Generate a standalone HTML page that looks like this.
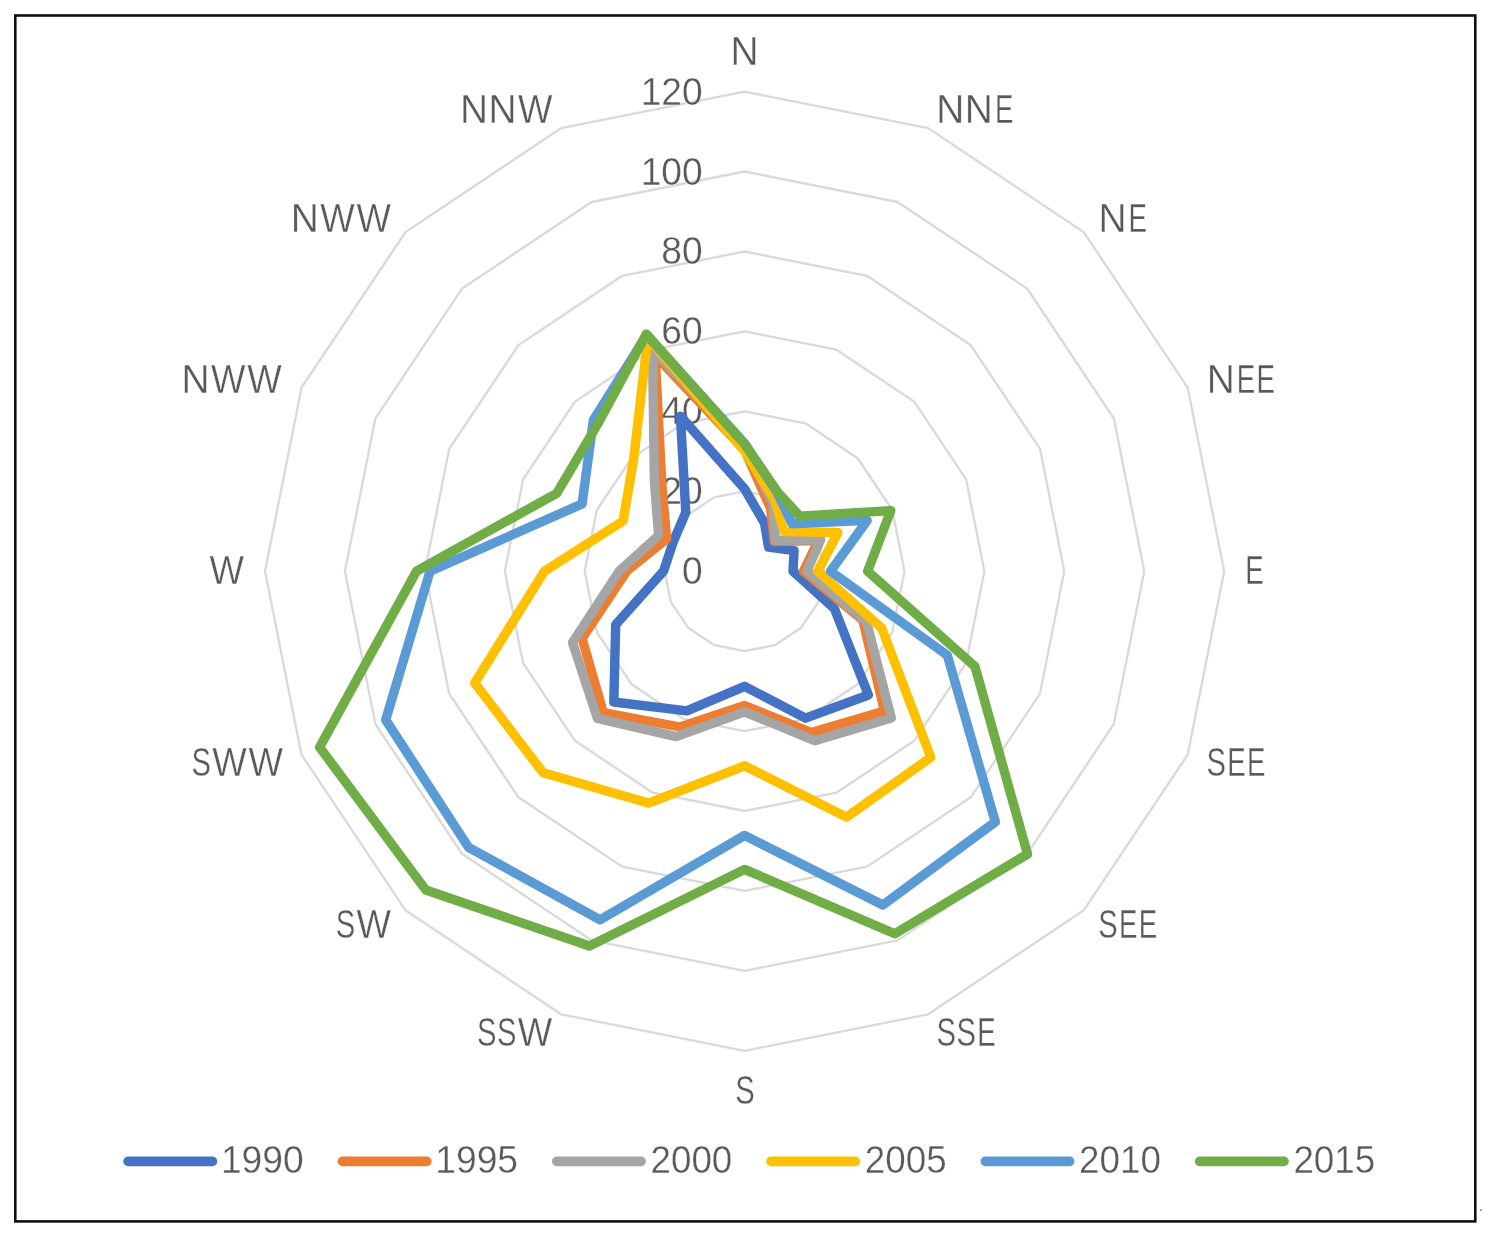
<!DOCTYPE html>
<html><head><meta charset="utf-8"><title>Radar chart</title>
<style>
html,body{margin:0;padding:0;background:#fff;}
body{width:1489px;height:1236px;overflow:hidden;position:relative;}
svg{position:absolute;left:0;top:0;display:block;}
text{font-family:"Liberation Sans",Arial,sans-serif;font-size:40.6px;fill:#595959;stroke:#fff;stroke-width:0.35px;}
</style></head><body>
<svg width="1489" height="1236" viewBox="0 0 1489 1236">
<rect x="15.3" y="15.5" width="1460.0" height="1205.9" fill="#fff" stroke="#111" stroke-width="2.6"/>
<circle cx="1480.8" cy="1210.2" r="1.1" fill="#9a9a9a"/>
<g fill="none" stroke="#D9D9D9" stroke-width="2.3" stroke-linejoin="round"><polygon points="744.6,491.3 775.2,497.4 801.1,514.7 818.4,540.6 824.5,571.2 818.4,601.8 801.1,627.7 775.2,645.0 744.6,651.1 714.0,645.0 688.1,627.7 670.8,601.8 664.7,571.2 670.8,540.6 688.1,514.7 714.0,497.4"/><polygon points="744.6,411.3 805.8,423.5 857.6,458.2 892.3,510.0 904.5,571.2 892.3,632.4 857.6,684.2 805.8,718.9 744.6,731.1 683.4,718.9 631.6,684.2 596.9,632.4 584.7,571.2 596.9,510.0 631.6,458.2 683.4,423.5"/><polygon points="744.6,331.4 836.4,349.7 914.2,401.6 966.1,479.4 984.4,571.2 966.1,663.0 914.2,740.8 836.4,792.7 744.6,811.0 652.8,792.7 575.0,740.8 523.1,663.0 504.8,571.2 523.1,479.4 575.0,401.6 652.8,349.7"/><polygon points="744.6,251.5 867.0,275.8 970.7,345.1 1040.0,448.8 1064.3,571.2 1040.0,693.6 970.7,797.3 867.0,866.6 744.6,890.9 622.2,866.6 518.5,797.3 449.2,693.6 424.9,571.2 449.2,448.8 518.5,345.1 622.2,275.8"/><polygon points="744.6,171.5 897.5,202.0 1027.2,288.6 1113.8,418.3 1144.3,571.2 1113.8,724.1 1027.2,853.8 897.5,940.4 744.6,970.9 591.7,940.4 462.0,853.8 375.4,724.1 344.9,571.2 375.4,418.3 462.0,288.6 591.7,202.0"/><polygon points="744.6,91.6 928.1,128.1 1083.7,232.1 1187.7,387.7 1224.2,571.2 1187.7,754.7 1083.7,910.3 928.1,1014.3 744.6,1050.8 561.1,1014.3 405.5,910.3 301.5,754.7 265.0,571.2 301.5,387.7 405.5,232.1 561.1,128.1"/></g>
<g><text y="64.70"><tspan x="730.56" textLength="28.05" lengthAdjust="spacingAndGlyphs">N</tspan></text><text y="123.10"><tspan x="936.36" textLength="28.05" lengthAdjust="spacingAndGlyphs">N</tspan><tspan x="964.86" textLength="28.05" lengthAdjust="spacingAndGlyphs">N</tspan><tspan x="994.88" textLength="18.46" lengthAdjust="spacingAndGlyphs">E</tspan></text><text y="232.00"><tspan x="1098.41" textLength="28.05" lengthAdjust="spacingAndGlyphs">N</tspan><tspan x="1128.43" textLength="18.46" lengthAdjust="spacingAndGlyphs">E</tspan></text><text y="393.20"><tspan x="1206.66" textLength="28.05" lengthAdjust="spacingAndGlyphs">N</tspan><tspan x="1236.68" textLength="18.46" lengthAdjust="spacingAndGlyphs">E</tspan><tspan x="1256.38" textLength="18.46" lengthAdjust="spacingAndGlyphs">E</tspan></text><text y="583.90"><tspan x="1245.28" textLength="18.46" lengthAdjust="spacingAndGlyphs">E</tspan></text><text y="775.90"><tspan x="1206.62" textLength="19.46" lengthAdjust="spacingAndGlyphs">S</tspan><tspan x="1227.28" textLength="18.46" lengthAdjust="spacingAndGlyphs">E</tspan><tspan x="1246.98" textLength="18.46" lengthAdjust="spacingAndGlyphs">E</tspan></text><text y="937.60"><tspan x="1098.32" textLength="19.46" lengthAdjust="spacingAndGlyphs">S</tspan><tspan x="1118.98" textLength="18.46" lengthAdjust="spacingAndGlyphs">E</tspan><tspan x="1138.68" textLength="18.46" lengthAdjust="spacingAndGlyphs">E</tspan></text><text y="1046.20"><tspan x="936.42" textLength="19.46" lengthAdjust="spacingAndGlyphs">S</tspan><tspan x="956.52" textLength="19.46" lengthAdjust="spacingAndGlyphs">S</tspan><tspan x="977.18" textLength="18.46" lengthAdjust="spacingAndGlyphs">E</tspan></text><text y="1104.40"><tspan x="735.37" textLength="19.46" lengthAdjust="spacingAndGlyphs">S</tspan></text><text y="1046.20"><tspan x="477.02" textLength="19.46" lengthAdjust="spacingAndGlyphs">S</tspan><tspan x="497.12" textLength="19.46" lengthAdjust="spacingAndGlyphs">S</tspan><tspan x="517.79" textLength="34.49" lengthAdjust="spacingAndGlyphs">W</tspan></text><text y="937.60"><tspan x="335.82" textLength="19.46" lengthAdjust="spacingAndGlyphs">S</tspan><tspan x="356.49" textLength="34.49" lengthAdjust="spacingAndGlyphs">W</tspan></text><text y="775.90"><tspan x="191.62" textLength="19.46" lengthAdjust="spacingAndGlyphs">S</tspan><tspan x="212.29" textLength="34.49" lengthAdjust="spacingAndGlyphs">W</tspan><tspan x="248.59" textLength="34.49" lengthAdjust="spacingAndGlyphs">W</tspan></text><text y="583.90"><tspan x="209.49" textLength="34.49" lengthAdjust="spacingAndGlyphs">W</tspan></text><text y="393.20"><tspan x="181.56" textLength="28.05" lengthAdjust="spacingAndGlyphs">N</tspan><tspan x="210.99" textLength="34.49" lengthAdjust="spacingAndGlyphs">W</tspan><tspan x="247.29" textLength="34.49" lengthAdjust="spacingAndGlyphs">W</tspan></text><text y="232.00"><tspan x="290.86" textLength="28.05" lengthAdjust="spacingAndGlyphs">N</tspan><tspan x="320.29" textLength="34.49" lengthAdjust="spacingAndGlyphs">W</tspan><tspan x="356.59" textLength="34.49" lengthAdjust="spacingAndGlyphs">W</tspan></text><text y="123.10"><tspan x="460.06" textLength="28.05" lengthAdjust="spacingAndGlyphs">N</tspan><tspan x="488.56" textLength="28.05" lengthAdjust="spacingAndGlyphs">N</tspan><tspan x="517.99" textLength="34.49" lengthAdjust="spacingAndGlyphs">W</tspan></text></g>
<g><text x="681.99" y="584.20" textLength="20.66" lengthAdjust="spacingAndGlyphs" style="font-size:39.2px">0</text><text x="661.33" y="504.27" textLength="41.32" lengthAdjust="spacingAndGlyphs" style="font-size:39.2px">20</text><text x="661.33" y="424.33" textLength="41.32" lengthAdjust="spacingAndGlyphs" style="font-size:39.2px">40</text><text x="661.33" y="344.40" textLength="41.32" lengthAdjust="spacingAndGlyphs" style="font-size:39.2px">60</text><text x="661.33" y="264.46" textLength="41.32" lengthAdjust="spacingAndGlyphs" style="font-size:39.2px">80</text><text x="640.67" y="184.53" textLength="61.98" lengthAdjust="spacingAndGlyphs" style="font-size:39.2px">100</text><text x="640.67" y="104.60" textLength="61.98" lengthAdjust="spacingAndGlyphs" style="font-size:39.2px">120</text></g>
<g fill="none" stroke-width="9.4" stroke-linejoin="round"><polygon points="744.6,488.9 764.5,523.2 768.6,547.2 794.1,550.7 793.0,571.2 834.3,608.4 868.4,695.0 805.5,718.2 744.6,686.3 686.8,710.8 613.8,702.0 615.7,624.6 663.5,571.2 673.3,541.7 685.8,512.4 680.4,416.1" stroke="#4472C4"/><polygon points="744.6,450.1 770.6,508.4 774.3,541.5 818.4,540.6 803.4,571.2 862.8,620.1 884.5,711.1 811.4,732.6 744.6,705.5 680.1,727.0 603.3,712.5 582.1,638.5 626.7,571.2 666.7,538.9 662.1,488.7 655.1,355.2" stroke="#ED7D31"/><polygon points="744.6,447.3 772.9,502.9 775.4,540.4 820.7,539.7 806.9,571.2 866.5,621.7 891.3,717.9 814.8,740.7 744.6,711.9 676.1,736.6 597.4,718.4 572.5,642.5 619.1,571.2 658.6,535.6 654.4,481.0 652.5,348.9" stroke="#A5A5A5"/><polygon points="744.6,451.3 774.4,499.2 784.2,531.6 838.0,532.5 817.7,571.2 881.6,627.9 930.8,757.4 846.5,817.1 744.6,765.8 648.5,803.1 543.1,772.7 474.7,683.0 544.4,571.2 623.1,520.9 633.5,460.1 647.8,337.5" stroke="#FFC000"/><polygon points="744.6,443.3 777.2,492.6 792.1,523.7 867.2,520.4 830.5,571.2 947.3,655.2 995.3,821.9 882.9,905.0 744.6,835.4 600.2,919.8 468.5,847.3 385.7,719.9 430.1,571.2 582.1,503.9 593.4,420.0 646.7,334.9" stroke="#5B9BD5"/><polygon points="744.6,444.1 777.5,491.8 799.7,516.1 890.8,510.6 867.7,571.2 975.0,666.6 1027.5,854.1 894.8,933.8 744.6,869.4 589.4,946.0 425.8,890.0 319.6,747.2 416.5,571.2 556.7,493.3 597.6,424.2 646.4,334.1" stroke="#70AD47"/></g>
<g stroke-width="9.6" stroke-linecap="round"><line x1="128.1" y1="1161.4" x2="212.5" y2="1161.4" stroke="#4472C4"/><text x="220.92" y="1173.40" textLength="82.79" lengthAdjust="spacingAndGlyphs" style="font-size:38.7px">1990</text><line x1="342.4" y1="1161.4" x2="426.8" y2="1161.4" stroke="#ED7D31"/><text x="435.21" y="1173.40" textLength="82.90" lengthAdjust="spacingAndGlyphs" style="font-size:38.7px">1995</text><line x1="556.7" y1="1161.4" x2="641.1" y2="1161.4" stroke="#A5A5A5"/><text x="650.50" y="1173.40" textLength="81.79" lengthAdjust="spacingAndGlyphs" style="font-size:38.7px">2000</text><line x1="771.0" y1="1161.4" x2="855.4" y2="1161.4" stroke="#FFC000"/><text x="864.80" y="1173.40" textLength="81.90" lengthAdjust="spacingAndGlyphs" style="font-size:38.7px">2005</text><line x1="985.3" y1="1161.4" x2="1069.7" y2="1161.4" stroke="#5B9BD5"/><text x="1079.10" y="1173.40" textLength="81.79" lengthAdjust="spacingAndGlyphs" style="font-size:38.7px">2010</text><line x1="1199.6" y1="1161.4" x2="1284.0" y2="1161.4" stroke="#70AD47"/><text x="1293.40" y="1173.40" textLength="81.90" lengthAdjust="spacingAndGlyphs" style="font-size:38.7px">2015</text></g>
</svg>
</body></html>
